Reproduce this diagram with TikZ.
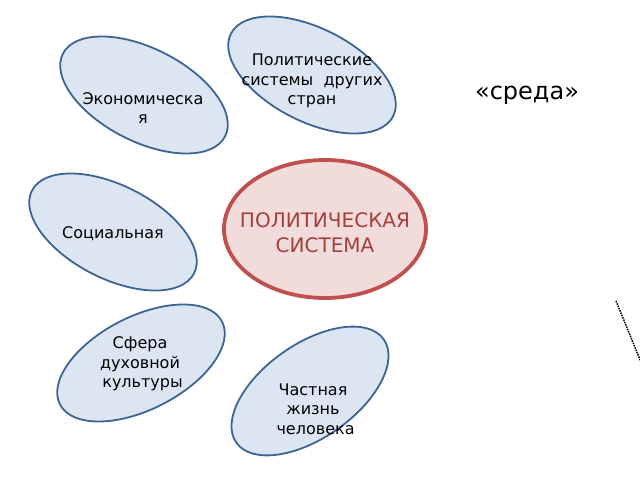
\documentclass[tikz,border=0pt]{standalone}
\usepackage{fontspec}
\setmainfont{DejaVu Sans}
\usetikzlibrary{shapes}
\usetikzlibrary{positioning}

\definecolor{bluefill}{HTML}{DCE6F2}
\definecolor{blueline}{HTML}{3D6494}
\definecolor{redfill}{HTML}{F2DCDB}
\definecolor{redline}{HTML}{C0504D}
\definecolor{redtext}{HTML}{A3403D}

\begin{document}
\begin{tikzpicture}[
	x=1pt, y=1pt,
	font=\fontsize{16}{19.5}\selectfont
]
\tikzset{
    sphere/.style = {ellipse, draw=blueline, line width=1.8pt, fill=bluefill,
                     minimum width=182pt, minimum height=93pt, inner sep=0pt},
    sphtext/.style = {align=center, inner sep=0pt},
    core/.style = {ellipse, draw=redline, line width=3.8pt, fill=redfill,
                   minimum width=202pt, minimum height=138pt, inner sep=0pt},
    coretext/.style = {align=center, inner sep=0pt, text=redtext,
                       font=\fontsize{20}{25}\selectfont},
    envline/.style = {dash pattern=on 1.5pt off 1pt, line width=1.5pt}
}
\useasboundingbox (0,0) rectangle (640,480);
\node[sphere, rotate=-27] at (144,385) (econ) {};
\node[sphere, rotate=-27] at (312,405) (polit) {};
\node[sphere, rotate=-27] at (113,248) (social) {};
\node[sphere, rotate=27] at (141,117) (culture) {};
\node[sphere, rotate=35, minimum width=180pt, minimum height=94pt] at (310,89) (private) {};
\node[core] at (325,251) (polsys) {};
%
\node[sphtext] at (143,372) (econt) {Экономическа\\я};
\node[sphtext] at (312,399) (politt) {Политические\\системы\ \ других\\стран};
\node[sphtext] at (113,246) (socialt) {Социальная};
\node[sphtext] at (140,116) (culturet) {Сфера\\духовной\\\ культуры};
\node[sphtext] at (313,71) (privatet) {Частная\\жизнь\\\ человека};
\node[coretext] at (325,247) (polsyst) {ПОЛИТИЧЕСКАЯ\\СИСТЕМА};
%
\node[font=\fontsize{24}{28}\selectfont] at (527,385) (env) {«среда»};
\coordinate (envtop) at (616,179);
\coordinate (envbot) at (641,118);
\draw[envline] (envtop) -- (envbot);
\end{tikzpicture}
\end{document}
